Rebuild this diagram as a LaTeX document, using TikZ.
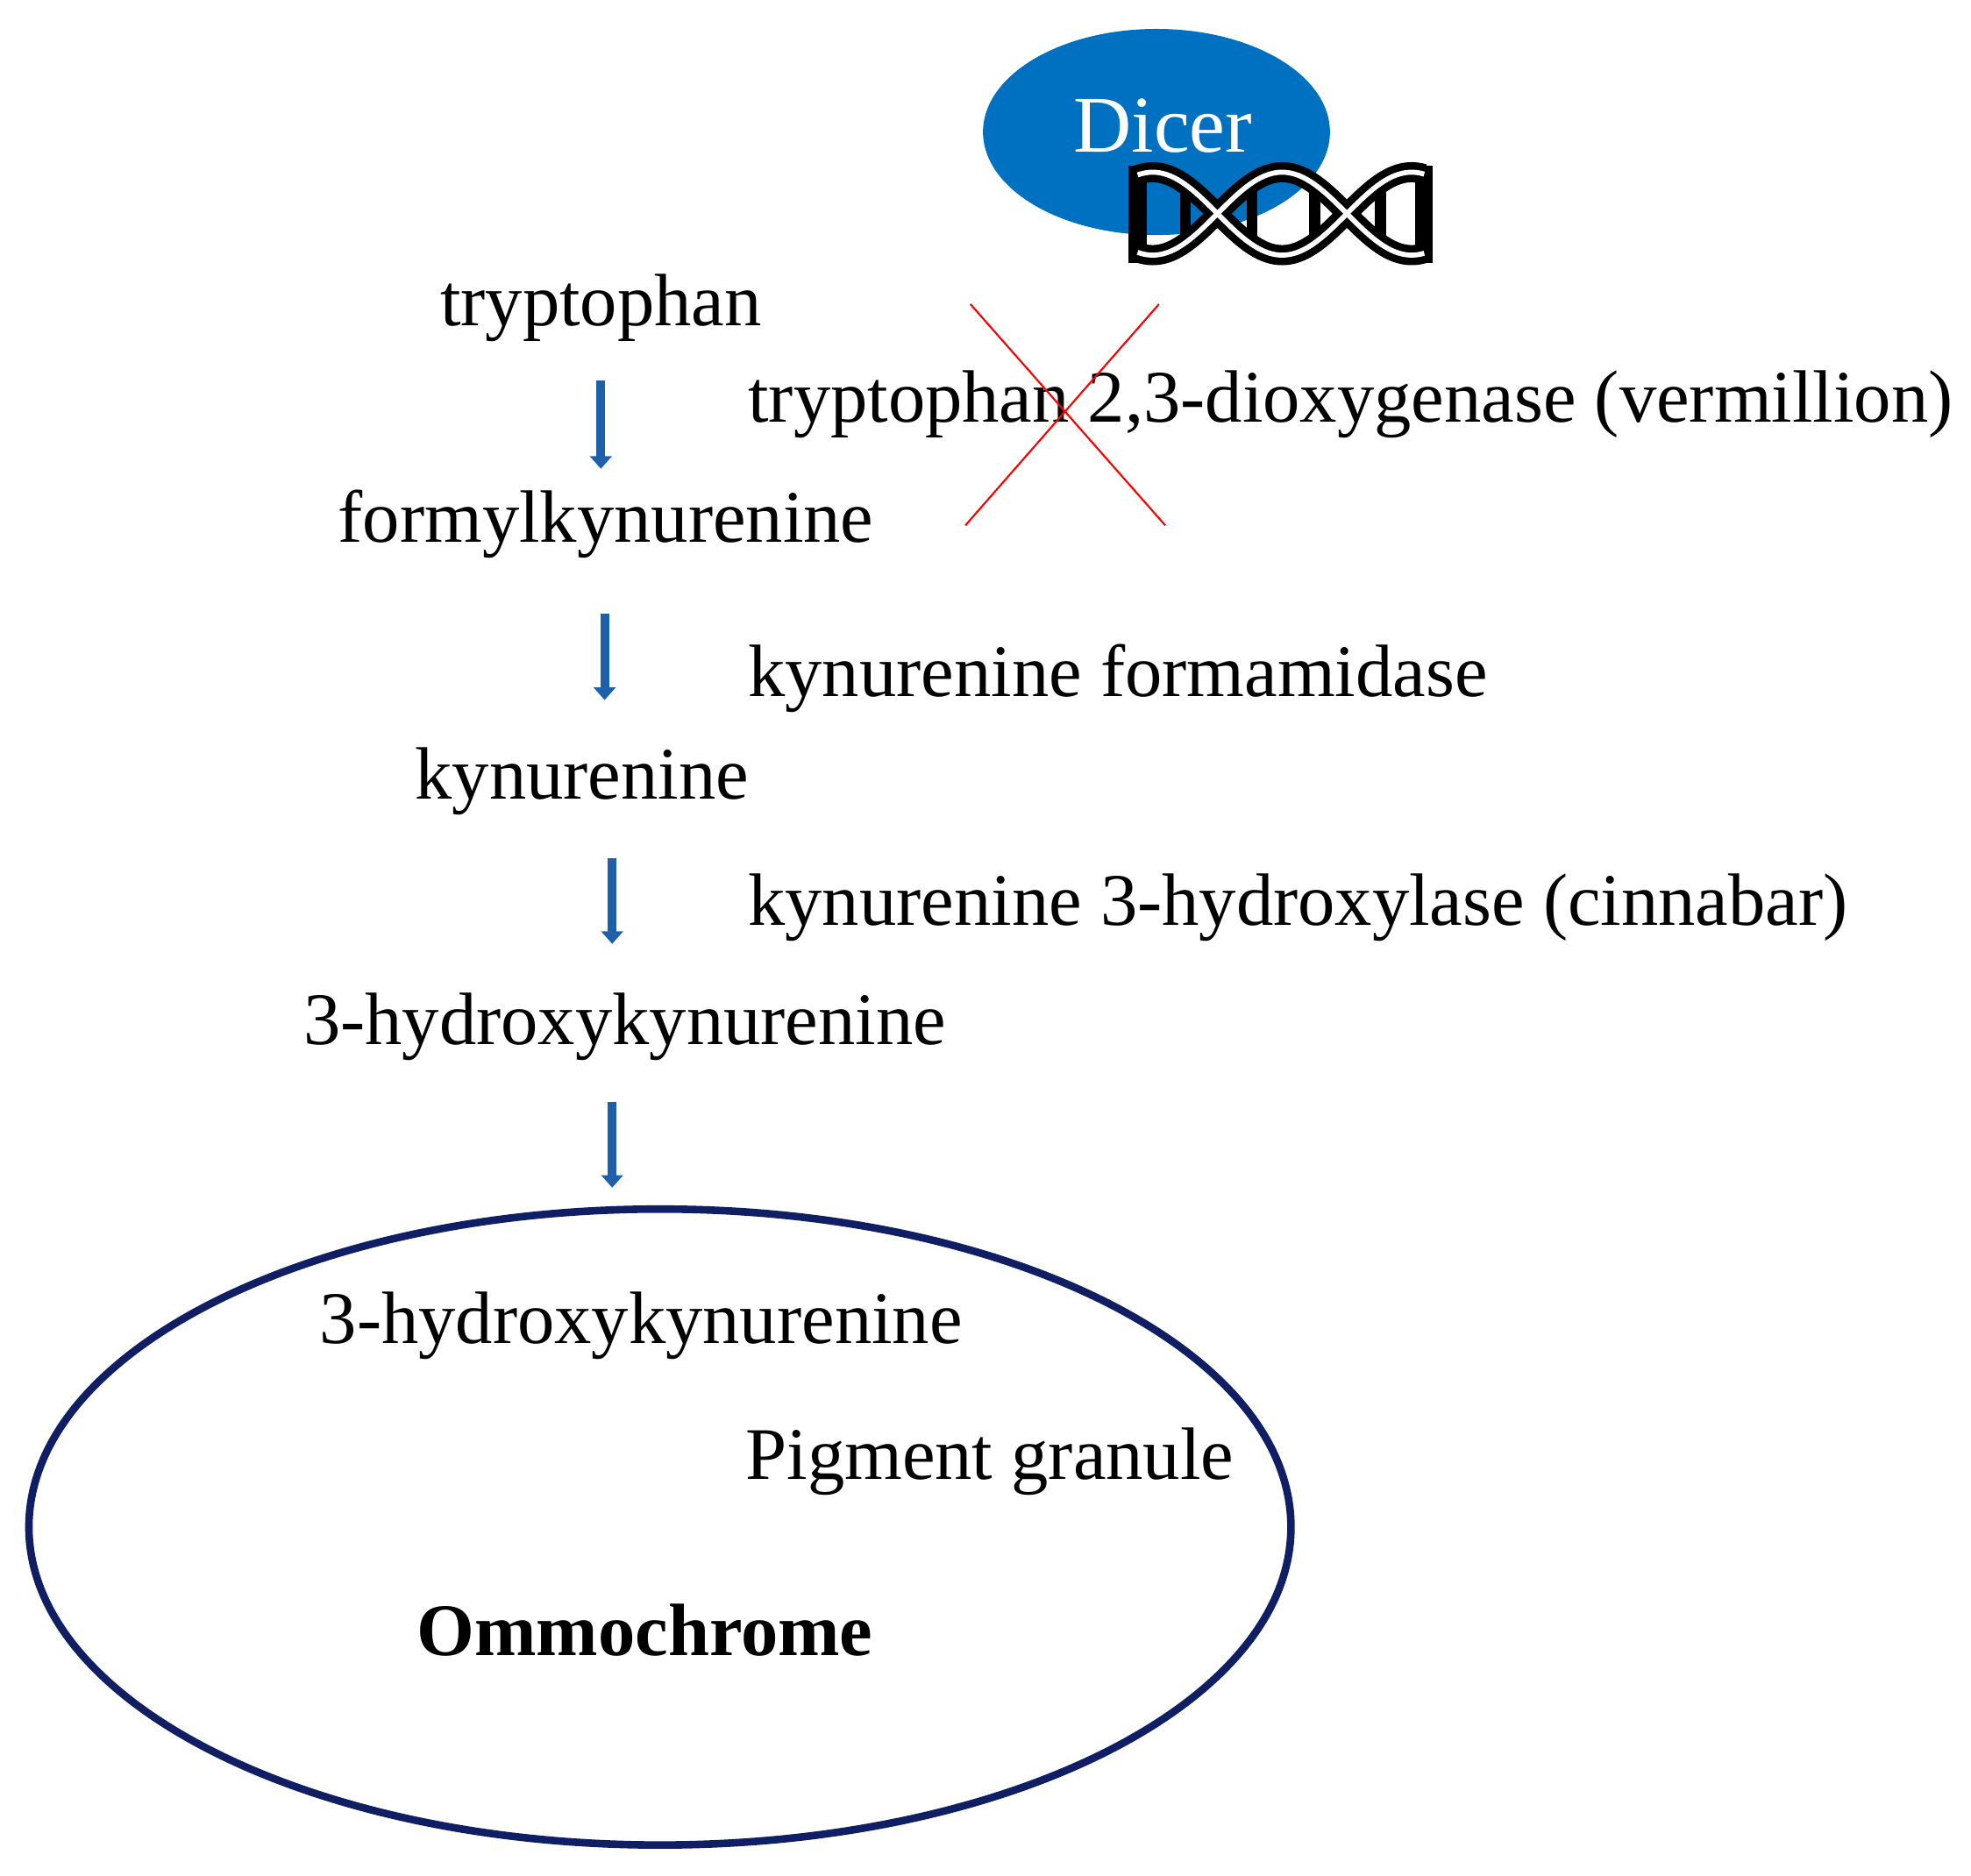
\documentclass[tikz,border=0pt]{standalone}
\usepackage{fontspec}
\setmainfont{Liberation Serif}
\usetikzlibrary{arrows.meta,shapes.geometric}
\begin{document}
\begin{tikzpicture}[x=1pt,y=-1pt,
  lbl/.style={font=\fontsize{59}{62}\selectfont, inner sep=0pt},
  flow/.style={draw={rgb,255:red,31;green,96;blue,170}, line width=7pt, -{Triangle[width=17pt,length=10pt]}}]
\useasboundingbox (0,0) rectangle (1568,1492);
\definecolor{dblue}{RGB}{0,112,192}
\definecolor{navy}{RGB}{16,30,100}
% Dicer
\node[ellipse, fill=dblue, minimum width=276pt, minimum height=164pt, inner sep=0pt, draw=none] (dicer) at (920,105) {};
\node[font=\fontsize{64}{66}\selectfont, text=white, inner sep=0pt] (dicert) at (925,100) {Dicer};
% DNA
\foreach \x in {943,996,1046,1098}{\draw[line width=9pt] (\x,146) -- (\x,194);}
\draw[line width=14pt] (905,132) -- (905,209) (1133,132) -- (1133,209);
\foreach \w/\c in {16/black,4/white}{
 \draw[line width=\w pt, \c] plot[domain=905:1133,samples=80] (\x,{170-33*cos((\x-917)*1.7476)});
 \draw[line width=\w pt, \c] plot[domain=905:1133,samples=80] (\x,{170+33*cos((\x-917)*1.7476)});
}
% pathway
\node[lbl] (trp) at (478,245) {tryptophan};
\node[lbl] (fk) at (482,417) {formylkynurenine};
\node[lbl] (kyn) at (463,622) {kynurenine};
\node[lbl] (hk) at (497,817) {3-hydroxykynurenine};
\node[lbl, anchor=west] (e1) at (595,322) {tryptophan 2,3-dioxygenase (vermillion)};
\node[lbl, anchor=west] (e2) at (595,540) {kynurenine formamidase};
\node[lbl, anchor=west] (e3) at (595,722) {kynurenine 3-hydroxylase (cinnabar)};
\coordinate (a1s) at (478,303); \coordinate (a1e) at (478,373);
\coordinate (a2s) at (481,488); \coordinate (a2e) at (481,557);
\coordinate (a3s) at (487,683); \coordinate (a3e) at (487,751);
\coordinate (a4s) at (487,877); \coordinate (a4e) at (487,945);
\draw[flow] (a1s) -- (a1e);
\draw[flow] (a2s) -- (a2e);
\draw[flow] (a3s) -- (a3e);
\draw[flow] (a4s) -- (a4e);
% red X
\coordinate (x1) at (772,242); \coordinate (x2) at (927,418);
\coordinate (x3) at (922,242); \coordinate (x4) at (768,418);
\draw[red, line width=1.5pt] (x1) -- (x2) (x3) -- (x4);
% granule
\node[ellipse, draw=navy, line width=6pt, minimum width=1004pt, minimum height=506pt, inner sep=0pt] (gran) at (525,1215) {};
\node[lbl] (hk2) at (510,1055) {3-hydroxykynurenine};
\node[lbl, anchor=west] (pg) at (593,1163) {Pigment granule};
\node[lbl, font=\fontsize{59}{62}\selectfont\bfseries] (omm) at (513,1297) {Ommochrome};
\end{tikzpicture}
\end{document}
